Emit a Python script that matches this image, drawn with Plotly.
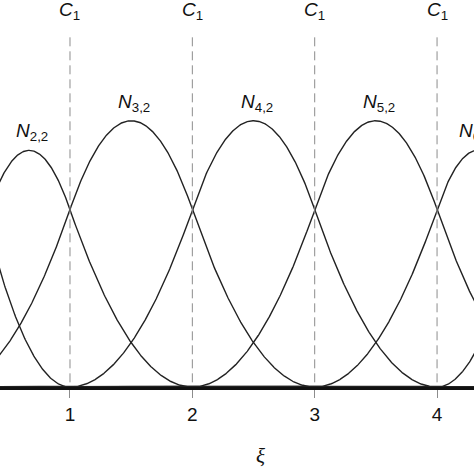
import numpy as np
import plotly.graph_objects as go

# Knot vector of the quadratic B-spline basis (degree p = 2)
knots = [0, 0, 0, 1, 2, 3, 4, 5, 5, 5]
degree = 2
basis_labels = ["N<sub>1,2</sub>", "N<sub>2,2</sub>", "N<sub>3,2</sub>", "N<sub>4,2</sub>",
                "N<sub>5,2</sub>", "N<sub>6,2</sub>", "N<sub>7,2</sub>"]
labelled = [1, 2, 3, 4, 5]          # indices of basis functions that carry a label
element_bounds = [1, 2, 3, 4]       # interior knots (C1 continuity lines)
continuity_label = "C<sub>1</sub>"
tick_vals = [1, 2, 3, 4]
tick_text = ["1", "2", "3", "4"]
x_title = "ξ"

X_RANGE = [0.428, 4.302]


def basis(i, p, t, u):
    if p == 0:
        last = (t[i + 1] == t[-1]) & (u == t[-1])
        return np.where(((u >= t[i]) & (u < t[i + 1])) | last & (t[i] < t[i + 1]), 1.0, 0.0)
    a = np.zeros_like(u)
    b = np.zeros_like(u)
    if t[i + p] != t[i]:
        a = (u - t[i]) / (t[i + p] - t[i]) * basis(i, p - 1, t, u)
    if t[i + p + 1] != t[i + 1]:
        b = (t[i + p + 1] - u) / (t[i + p + 1] - t[i + 1]) * basis(i + 1, p - 1, t, u)
    return a + b


u = np.linspace(knots[0], knots[-1], 1001)
t = np.array(knots, dtype=float)
n_basis = len(knots) - degree - 1

fig = go.Figure()
curves = []
for i in range(n_basis):
    y = basis(i, degree, t, u)
    curves.append(y)
    fig.add_trace(go.Scatter(x=u, y=y, mode="lines",
                             line=dict(color="#222222", width=1.4),
                             hoverinfo="skip", showlegend=False))

# dashed continuity lines
for xb in element_bounds:
    fig.add_trace(go.Scatter(x=[xb, xb], y=[0.985, 0], mode="lines",
                             line=dict(color="#8c8c8c", width=1, dash="9px,5px"),
                             hoverinfo="skip", showlegend=False))

FONT_SANS = "Liberation Sans, Arial"
annotations = []
for xb in element_bounds:
    annotations.append(dict(x=xb, y=1.058, xref="x", yref="paper",
                            text="<i>C</i>" + "<sub>1</sub>", showarrow=False,
                            font=dict(size=19, color="#111111", family=FONT_SANS),
                            xanchor="center", yanchor="middle"))

for i in labelled:
    y = curves[i]
    k = int(np.argmax(y))
    xp, yp = u[k], y[k]
    lab = basis_labels[i].replace("N", "<i>N</i>", 1)
    common = dict(text=lab, showarrow=False,
                  font=dict(size=19, color="#111111", family=FONT_SANS),
                  xanchor="center", yanchor="bottom", yshift=4)
    if xp > X_RANGE[1]:
        annotations.append(dict(x=(xp - X_RANGE[0]) / (X_RANGE[1] - X_RANGE[0]), y=yp,
                                xref="paper", yref="y", xshift=-3, **common))
    else:
        annotations.append(dict(x=xp, y=yp, xref="x", yref="y", xshift=3, **common))

annotations.append(dict(x=260 / 474, y=-0.195, xref="paper", yref="paper",
                        text="<i>" + x_title + "</i>", showarrow=False,
                        font=dict(size=21, color="#111111", family="Liberation Serif, Times New Roman"),
                        xanchor="center", yanchor="middle"))

fig.update_layout(
    width=474, height=474,
    margin=dict(l=0, r=0, t=32, b=87),
    paper_bgcolor="white", plot_bgcolor="white",
    annotations=annotations,
    xaxis=dict(range=X_RANGE, tickvals=tick_vals, ticktext=tick_text,
               showgrid=False, zeroline=False, showline=True, linecolor="#111111",
               linewidth=2.5, ticks="outside", ticklen=8, tickcolor="#8c8c8c", tickwidth=1,
               tickfont=dict(size=19, color="#111111", family=FONT_SANS)),
    yaxis=dict(range=[0, 1], visible=False, showgrid=False, zeroline=False),
)

fig.write_html("out.html", config={"displayModeBar": False},
               post_script="document.body.style.margin='0';document.body.style.padding='0';"
                           "document.body.style.overflow='hidden';")
